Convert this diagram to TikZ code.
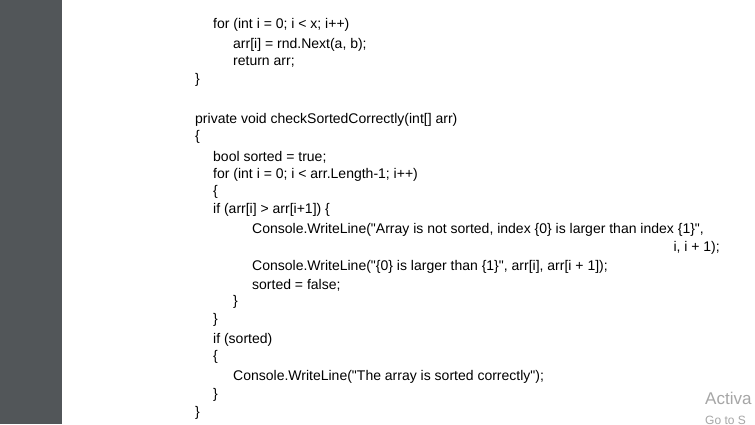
\documentclass[tikz,border=0pt]{standalone}
\usepackage{fontspec}
\setmainfont{Liberation Sans}[Ligatures=TeXOff]
\definecolor{barc}{HTML}{525659}
\begin{document}
\begin{tikzpicture}[x=1pt,y=-1pt,
  code/.style={anchor=west,inner sep=0pt,font=\fontsize{14}{16}\selectfont},
  wm/.style={anchor=west,inner sep=0pt,text=black!35,font=\fontsize{17}{20}\selectfont}]
\useasboundingbox (0,0) rectangle (755,424);
\fill[white] (0,0) rectangle (755,424);
\fill[barc] (0,0) rectangle (62,424);
\node[code] (l1) at (213,25) {for (int i = 0; i < x; i++)};
\node[code] (l2) at (233,45) {arr[i] = rnd.Next(a, b);};
\node[code] (l3) at (233,62) {return arr;};
\node[code] (l4) at (195,80) {\}};
\node[code] (l5) at (195,120) {private void checkSortedCorrectly(int[] arr)};
\node[code] (l6) at (195,137) {\{};
\node[code] (l7) at (213,157) {bool sorted = true;};
\node[code] (l8) at (213,175) {for (int i = 0; i < arr.Length-1; i++)};
\node[code] (l9) at (213,192) {\{};
\node[code] (l10) at (213,210) {if (arr[i] > arr[i+1]) \{};
\node[code] (l11) at (252,230) {Console.WriteLine("Array is not sorted, index \{0\} is larger than index \{1\}",};
\node[code,anchor=east] (l12) at (720,248) {i, i + 1);};
\node[code] (l13) at (252,267) {Console.WriteLine("\{0\} is larger than \{1\}", arr[i], arr[i + 1]);};
\node[code] (l14) at (252,285) {sorted = false;};
\node[code] (l15) at (233,302) {\}};
\node[code] (l16) at (213,320) {\}};
\node[code] (l17) at (213,340) {if (sorted)};
\node[code] (l18) at (213,357) {\{};
\node[code] (l19) at (233,377) {Console.WriteLine("The array is sorted correctly");};
\node[code] (l20) at (213,395) {\}};
\node[code] (l21) at (195,413) {\}};
\node[wm] (w1) at (705,398) {Activa};
\node[wm,font=\fontsize{12}{14}\selectfont] (w2) at (705,420) {Go to S};
\end{tikzpicture}
\end{document}
